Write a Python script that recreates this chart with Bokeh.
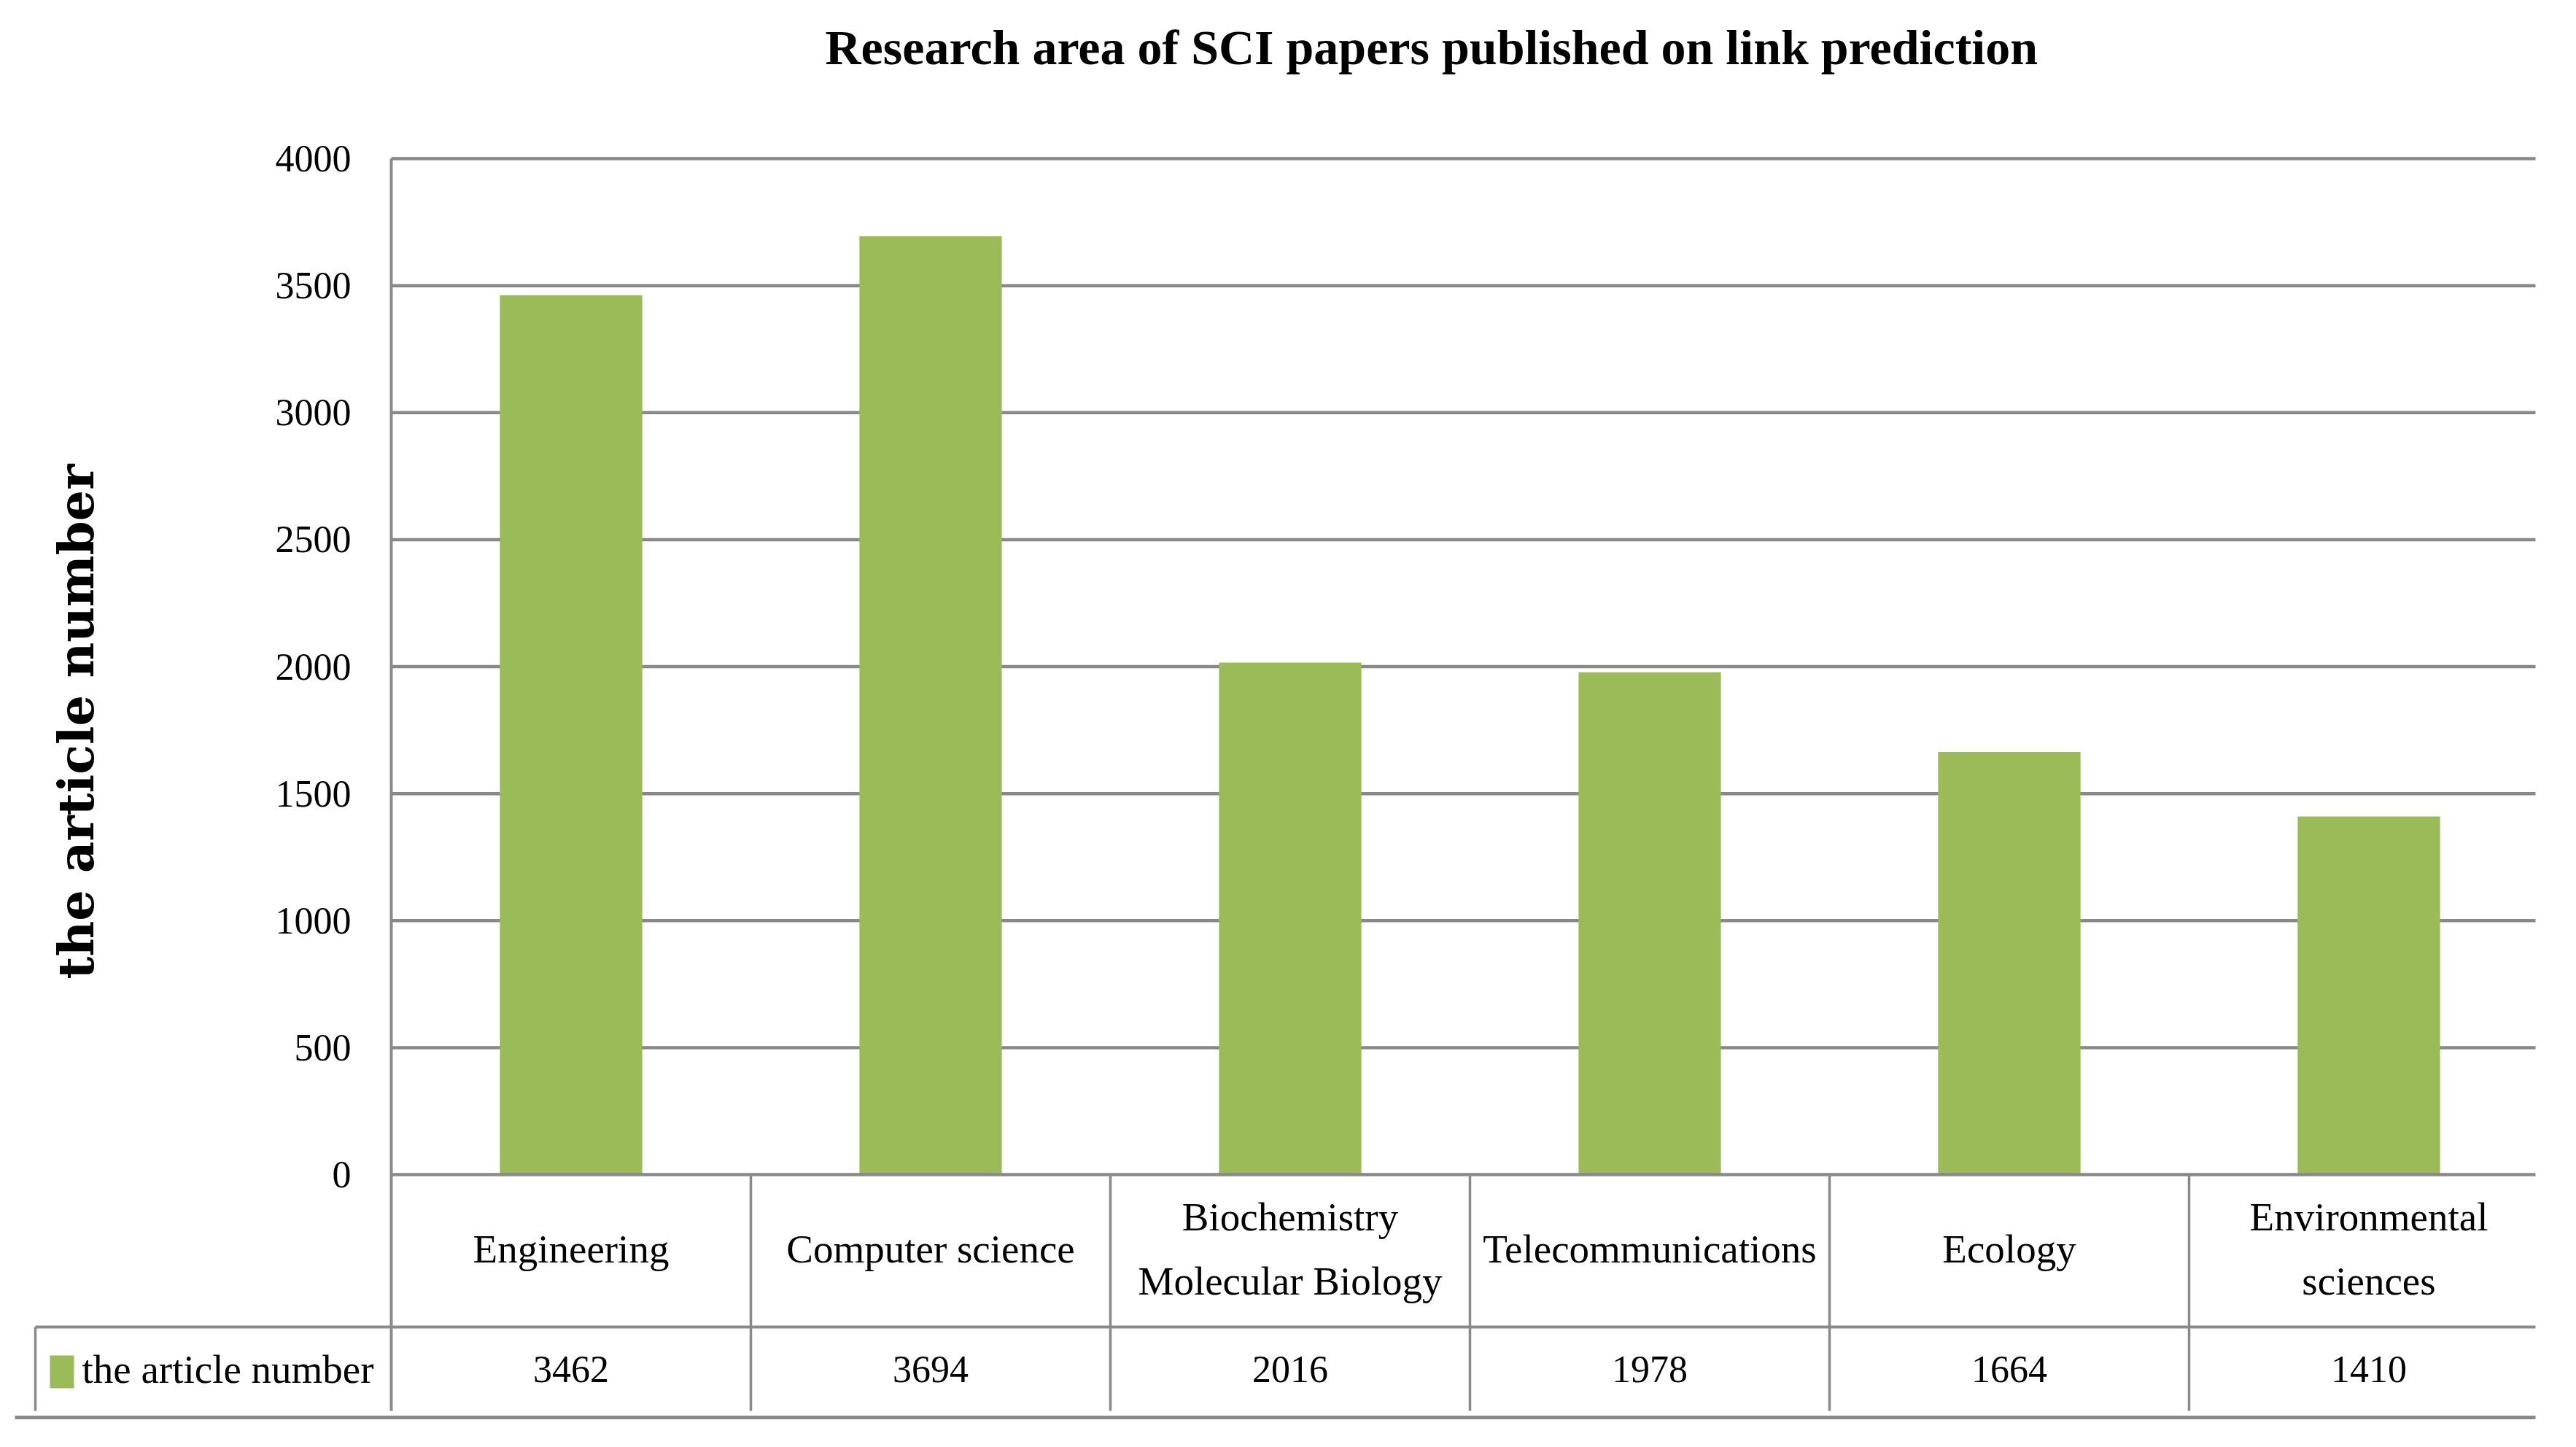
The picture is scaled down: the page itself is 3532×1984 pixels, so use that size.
import math
from bokeh.plotting import figure
from bokeh.models import Range1d, LinearAxis, FixedTicker
from bokeh.core.properties import value
from bokeh.embed import file_html
from bokeh.resources import INLINE

# ---------------- data ----------------
title_text = "Research area of SCI papers published on link prediction"
categories = ["Engineering", "Computer science", "Biochemistry\nMolecular Biology",
              "Telecommunications", "Ecology", "Environmental\nsciences"]
article_number = [3462, 3694, 2016, 1978, 1664, 1410]
series_name = "the article number"
y_axis_title = "the article number"
y_ticks = [0, 500, 1000, 1500, 2000, 2500, 3000, 3500, 4000]

# ---------------- layout (pixels in the figure canvas) ----------------
W, H = 3516, 1968
n = len(categories)
FRAME_L = 10
AXIS_PX = 536          # x pixel of value axis / table start
COL_W = 493            # pixel width of one category column
FRAME_R = AXIS_PX + n * COL_W
FRAME_T, FRAME_B = 123, 1952
TOP_PX = 217           # y pixel of 4000
ZERO_PX = 1610         # y pixel of 0
Y_MAX = 4000
LINE_END_PX = 3476     # right end of grid / table lines

ppu_y = (ZERO_PX - TOP_PX) / Y_MAX


def dx(px):
    return (px - AXIS_PX) / COL_W


def dy(py):
    return (ZERO_PX - py) / ppu_y


GRID = "#898989"
BAR = "#9bbb59"
SERIF = "Liberation Serif"

p = figure(width=W, height=H, output_backend="svg", toolbar_location=None,
           x_range=Range1d(dx(FRAME_L), n), y_range=Range1d(dy(FRAME_B), dy(FRAME_T)),
           x_axis_location=None, y_axis_location=None,
           min_border_left=FRAME_L, min_border_right=W - FRAME_R,
           min_border_top=FRAME_T, min_border_bottom=H - FRAME_B)
p.grid.visible = False
p.outline_line_color = None
p.background_fill_color = "white"
p.border_fill_color = "white"

# title (bottom of text sits standoff/2 above the frame)
p.title.text = title_text
p.title.align = "left"
p.title.offset = 1131 - FRAME_L
p.title.standoff = 42
p.title.text_font = SERIF
p.title.text_font_style = "bold"
p.title.text_font_size = "68px"
p.title.text_color = "black"

# value axis at the table start
yaxis = LinearAxis(ticker=FixedTicker(ticks=y_ticks), fixed_location=0,
                   axis_line_color=None, major_tick_line_color=None,
                   minor_tick_line_color=None, major_tick_out=0, major_tick_in=0,
                   major_label_standoff=55,
                   major_label_text_font=SERIF,
                   major_label_text_font_size="52px",
                   major_label_text_color="black")
p.add_layout(yaxis, "left")

centers = [i + 0.5 for i in range(n)]
grid_ticks = [t for t in y_ticks if t > 0]
x_end = dx(LINE_END_PX)

# gridlines (behind bars)
p.segment(x0=[0] * len(grid_ticks), x1=[x_end] * len(grid_ticks), y0=grid_ticks, y1=grid_ticks,
          line_color=GRID, line_width=4.5)

# bars
p.vbar(x=centers, top=article_number, bottom=0, width=0.396,
       fill_color=BAR, line_color=None)

# table lines
ROW_PX = 1819
VEND_PX = 1934
BOT_PX = 1943
LEFT_PX = 48
p.segment(x0=[0], x1=[x_end], y0=[0], y1=[0], line_color=GRID, line_width=4.5)
p.segment(x0=[0], x1=[0], y0=[Y_MAX], y1=[dy(VEND_PX)], line_color=GRID, line_width=4)
seps = list(range(1, n))
p.segment(x0=seps, x1=seps, y0=[0] * len(seps), y1=[dy(VEND_PX)] * len(seps),
          line_color=GRID, line_width=3.5)
p.segment(x0=[dx(LEFT_PX)], x1=[x_end], y0=[dy(ROW_PX)], y1=[dy(ROW_PX)],
          line_color=GRID, line_width=4)
p.segment(x0=[dx(LEFT_PX)], x1=[dx(LEFT_PX)], y0=[dy(ROW_PX)], y1=[dy(VEND_PX)],
          line_color=GRID, line_width=3.5)
p.segment(x0=[dx(20)], x1=[x_end], y0=[dy(BOT_PX)], y1=[dy(BOT_PX)],
          line_color=GRID, line_width=5)

# category labels
p.text(x=centers, y=[dy(1712)] * n, text=categories,
       text_align="center", text_baseline="middle",
       text_font=value(SERIF), text_font_size="55px", text_color="black",
       text_line_height=1.43)

# values row
p.text(x=centers, y=[dy(1877)] * n, text=[str(v) for v in article_number],
       text_align="center", text_baseline="middle",
       text_font=value(SERIF), text_font_size="52px", text_color="black")

# legend key + name
p.rect(x=[dx(84.5)], y=[dy(1880.5)], width=33, height=45,
       width_units="screen", height_units="screen",
       fill_color=BAR, line_color=None)
p.text(x=[dx(112)], y=[dy(1877)], text=[series_name],
       text_align="left", text_baseline="middle",
       text_font=value(SERIF), text_font_size="55px", text_color="black")

# y axis title
p.text(x=[dx(104)], y=[dy(989)], text=[y_axis_title], angle=math.pi / 2,
       text_align="center", text_baseline="alphabetic",
       text_font=value("DejaVu Serif"), text_font_style="bold",
       text_font_size="67px", text_color="black")

open("out.html", "w").write(file_html(p, INLINE))
